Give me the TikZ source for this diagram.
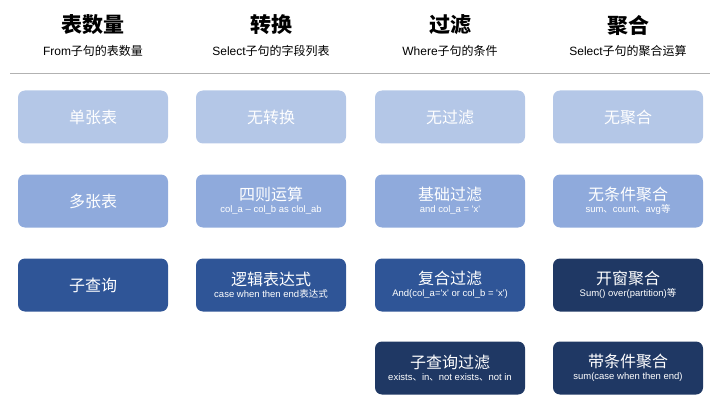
\documentclass[tikz,border=0pt]{standalone}
\usepackage{fontspec}
\setmainfont{Noto Sans CJK SC}
\newfontfamily\lat{Liberation Sans}
\begin{document}
\begin{tikzpicture}[x=1pt,y=-1pt,
 box/.style={rounded corners=7pt,minimum width=150pt,minimum height=53pt,text=white,align=center,inner sep=0pt},
 c1/.style={box,fill={rgb,255:red,180;green,199;blue,231}},
 c2/.style={box,fill={rgb,255:red,143;green,170;blue,220}},
 c3/.style={box,fill={rgb,255:red,47;green,85;blue,151}},
 c4/.style={box,fill={rgb,255:red,31;green,56;blue,100}},
 ttl/.style={font=\fontsize{21}{24}\selectfont\bfseries},
 sub/.style={font=\fontsize{12}{14}\selectfont},
 big/.style={font=\fontsize{16}{18}\selectfont},
]
\useasboundingbox (0,0) rectangle (720,409);
\foreach \x/\t/\s [count=\i] in {93/表数量/{\lat From}子句的表数量,271/转换/{\lat Select}子句的字段列表,450/过滤/{\lat Where}子句的条件,628/聚合/{\lat Select}子句的聚合运算}{
 \node[ttl] (t\i) at (\x,25) {\t};
 \node[sub] (s\i) at (\x,51) {\s};
}
\draw[gray!60] (10,73) -- (710,73);
\newcommand{\two}[2]{{\fontsize{16}{18}\selectfont #1}\\[0pt]{\fontsize{9.5}{11}\selectfont #2}}
\node[c1,big] (a1) at (93,117) {单张表};
\node[c2,big] (a2) at (93,201) {多张表};
\node[c3,big] (a3) at (93,285) {子查询};
\node[c1,big] (b1) at (271,117) {无转换};
\node[c2] (b2) at (271,201) {\two{四则运算}{\lat col\_a – col\_b as clol\_ab}};
\node[c3] (b3) at (271,285) {\two{逻辑表达式}{\lat case when then end\rm 表达式}};
\node[c1,big] (c1n) at (450,117) {无过滤};
\node[c2] (c2n) at (450,201) {\two{基础过滤}{\lat and col\_a = 'x'}};
\node[c3] (c3n) at (450,285) {\two{复合过滤}{\lat And(col\_a='x' or col\_b = 'x')}};
\node[c4] (c4n) at (450,368) {\two{子查询过滤}{\lat exists{\rm 、}in{\rm 、}not exists{\rm 、}not in}};
\node[c1,big] (d1) at (628,117) {无聚合};
\node[c2] (d2) at (628,201) {\two{无条件聚合}{\lat sum{\rm 、}count{\rm 、}avg\rm 等}};
\node[c4] (d3) at (628,285) {\two{开窗聚合}{\lat Sum() over(partition)\rm 等}};
\node[c4] (d4) at (628,368) {\two{带条件聚合}{\lat sum(case when then end)}};
\end{tikzpicture}
\end{document}
